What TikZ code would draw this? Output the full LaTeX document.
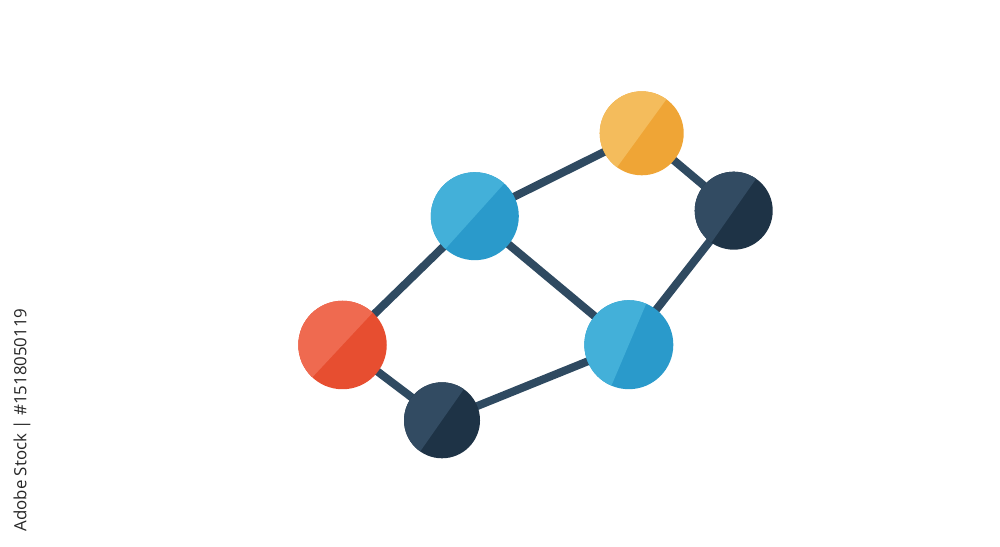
\documentclass[tikz,border=0pt]{standalone}
\usepackage{fontspec}
\setsansfont{Open Sans}
\usepackage{tikz}
\pgfdeclarelayer{edgelayer}
\pgfdeclarelayer{nodelayer}
\pgfsetlayers{edgelayer,nodelayer,main}
\definecolor{yellowA}{HTML}{F4BC5C}
\definecolor{yellowB}{HTML}{EFA536}
\definecolor{navyA}{HTML}{324B62}
\definecolor{navyB}{HTML}{1E3346}
\definecolor{blueA}{HTML}{43B0D9}
\definecolor{blueB}{HTML}{2A9ACB}
\definecolor{redA}{HTML}{EF6A50}
\definecolor{redB}{HTML}{E74E30}
\definecolor{linkcol}{HTML}{2F4A61}
\tikzset{
  dot/.style n args={3}{circle, inner sep=0pt, fill=#2,
    path picture={\fill[#1, shift={(path picture bounding box.center)}]
      (#3:1) -- (#3+180:1) -- ++(#3+90:1) -- ++(#3:2) -- cycle;}},
  link/.style={linkcol, line width=0.08cm}
}

\begin{document}
\begin{tikzpicture}
  \useasboundingbox (0,0) rectangle (10,5.46);
  % nodes
	\node [dot={yellowA}{yellowB}{54}, minimum size=0.84cm] (0) at (6.417, 4.127) {};
	\node [dot={navyA}{navyB}{55}, minimum size=0.78cm] (1) at (7.337, 3.353) {};
	\node [dot={blueA}{blueB}{48}, minimum size=0.88cm] (2) at (4.748, 3.298) {};
	\node [dot={blueA}{blueB}{67}, minimum size=0.89cm] (3) at (6.288, 2.013) {};
	\node [dot={redA}{redB}{47}, minimum size=0.885cm] (4) at (3.425, 2.01) {};
	\node [dot={navyA}{navyB}{55}, minimum size=0.76cm] (5) at (4.42, 1.257) {};
	%% stock label
	\node [rotate=90, text=black!85, font=\sffamily\fontsize{4.8}{6}\selectfont] (6) at (0.22, 1.26) {Adobe Stock | \#1518050119};
	% edges
	\begin{pgfonlayer}{edgelayer}
	\draw [link] (2.center) to (0.center);
	\draw [link] (0.center) to (1.center);
	\draw [link] (1.center) to (3.center);
	\draw [link] (2.center) to (3.center);
	\draw [link] (2.center) to (4.center);
	\draw [link] (4.center) to (5.center);
	\draw [link] (5.center) to (3.center);
	\end{pgfonlayer}
\end{tikzpicture}
\end{document}
